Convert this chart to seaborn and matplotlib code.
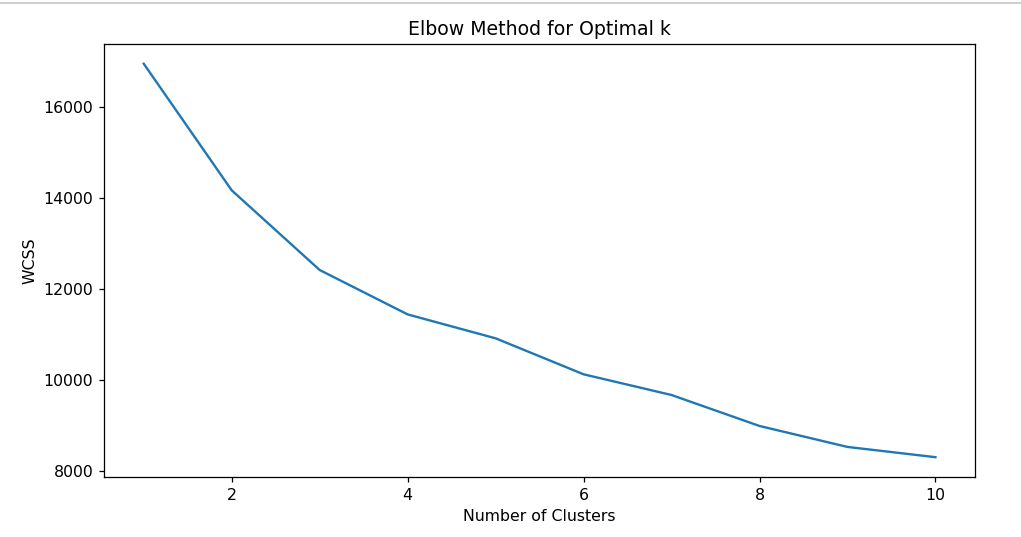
import matplotlib
matplotlib.use('Agg')
import matplotlib.pyplot as plt
import seaborn as sns
import pandas as pd

# elbow curve values
clusters = [1, 2, 3, 4, 5, 6, 7, 8, 9, 10]
wcss = [16945, 14165, 12415, 11440, 10915, 10125, 9670, 8990, 8530, 8305]

df = pd.DataFrame({'k': clusters, 'wcss': wcss})

# the reference looks like a default figure scaled up ~1.13x
s = 1.13
plt.rcParams.update({
    'font.size': 10 * s,
    'lines.linewidth': 1.5 * s,
    'axes.linewidth': 0.8 * s,
    'xtick.major.size': 3.5 * s, 'ytick.major.size': 3.5 * s,
    'xtick.major.width': 0.8 * s, 'ytick.major.width': 0.8 * s,
    'xtick.major.pad': 3.5 * s, 'ytick.major.pad': 3.5 * s,
    'axes.labelpad': 4.0 * s, 'axes.titlepad': 6.0 * s,
})

fig = plt.figure(figsize=(10.21, 5.37), dpi=100)
ax = fig.add_subplot(111)
fig.subplots_adjust(left=0.102, right=0.955, top=0.918, bottom=0.112)

sns.lineplot(x='k', y='wcss', data=df, ax=ax, color='#1f77b4')

ax.set_title('Elbow Method for Optimal k')
ax.set_xlabel('Number of Clusters')
ax.set_ylabel('WCSS')

# thin notebook-style border along the top edge
fig.add_artist(plt.Line2D([0, 1], [0.995, 0.995], transform=fig.transFigure,
                          color='#d0d0d0', lw=1.5))

fig.savefig('out.png', dpi=100)
